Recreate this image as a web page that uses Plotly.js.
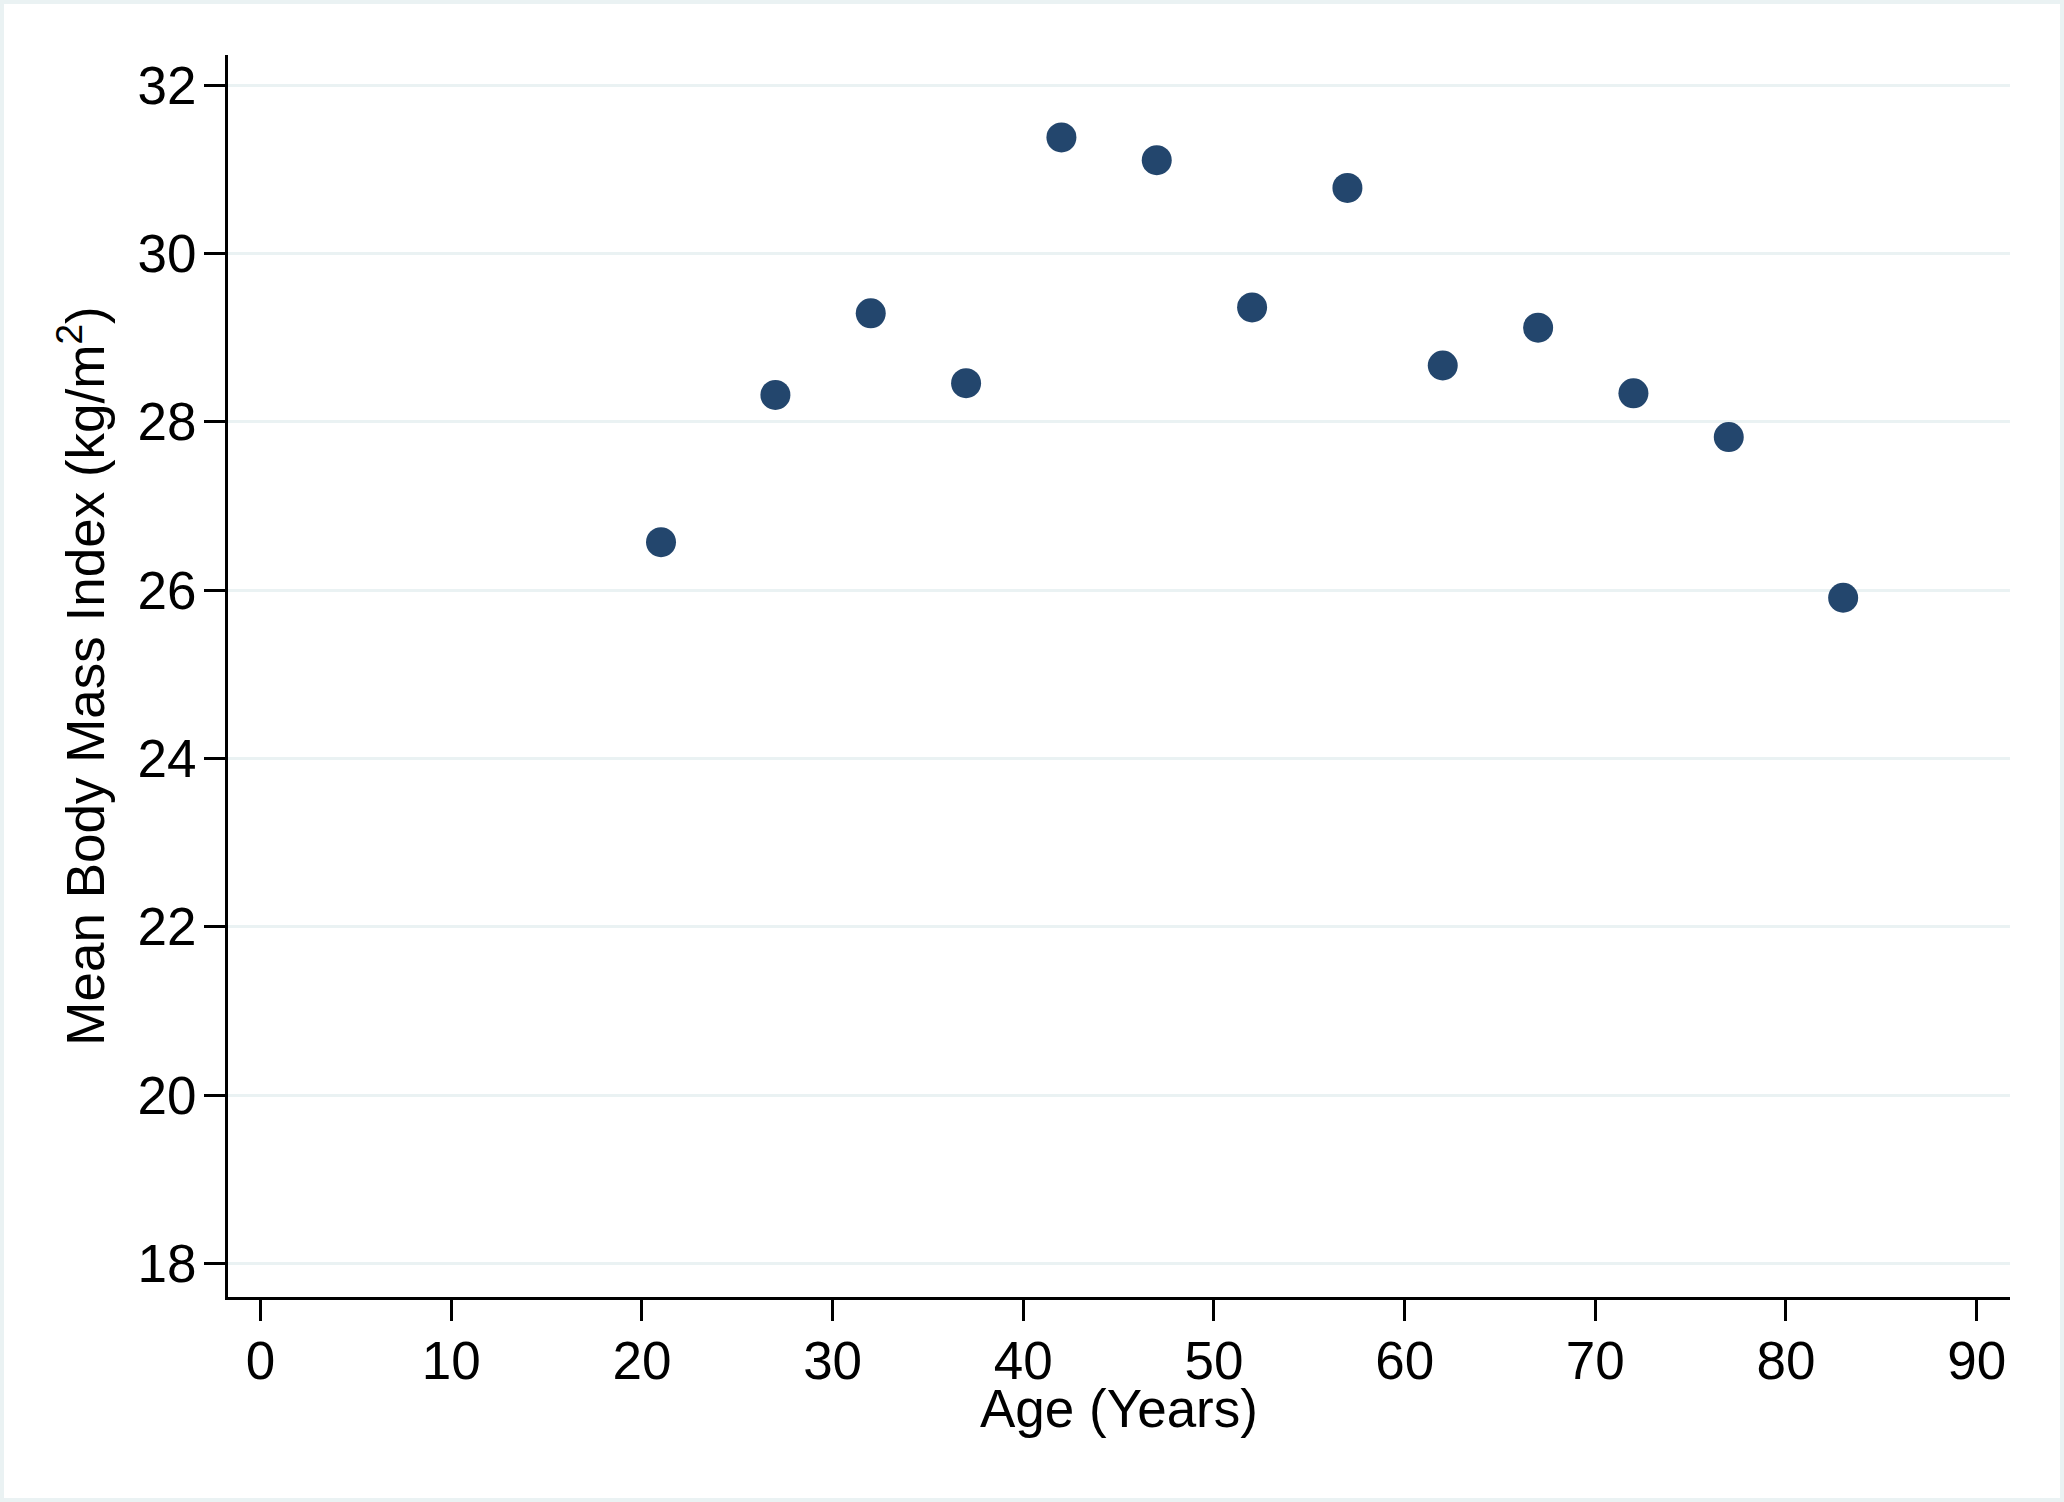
<!DOCTYPE html>
<html lang="en">
    <head>
        <meta charset="UTF-8" />
        <script src="https://cdn.plot.ly/plotly-3.0.1.min.js"></script>
        <title>Mean BMI by Age</title>
        <style>
            body {
                margin: 0;
                background: #ffffff;
            }
            #frame {
                width: 2064px;
                height: 1502px;
                box-sizing: border-box;
                border: 4px solid #eaf2f3;
            }
        </style>
    </head>
    <body>
        <div id="frame"><div id="graph"></div></div>
    </body>
    <script>
        // Age group midpoints and mean BMI
        const ages = [21, 27, 32, 37, 42, 47, 52, 57, 62, 67, 72, 77, 83];
        const meanBmi = [26.57, 28.32, 29.29, 28.46, 31.38, 31.11, 29.36, 30.78, 28.67, 29.12, 28.34, 27.82, 25.91];

        const xTicks = [0, 10, 20, 30, 40, 50, 60, 70, 80, 90];
        const yTicks = [18, 20, 22, 24, 26, 28, 30, 32];

        const font = { family: "Liberation Sans, Arial, sans-serif", size: 53, color: "#000000" };

        const data = [
            {
                x: ages,
                y: meanBmi,
                mode: "markers",
                type: "scatter",
                marker: { color: "#23466d", size: 30 },
            },
        ];

        const layout = {
            width: 2056,
            height: 1494,
            margin: { l: 224, r: 50, t: 51, b: 201 },
            paper_bgcolor: "#ffffff",
            plot_bgcolor: "#ffffff",
            font: font,
            showlegend: false,
            xaxis: {
                range: [-1.71, 91.75],
                tickvals: xTicks,
                ticks: "outside",
                ticklen: 21,
                tickwidth: 3,
                tickcolor: "#000000",
                ticklabelstandoff: -6,
                showline: true,
                linecolor: "#000000",
                linewidth: 3,
                showgrid: false,
                zeroline: false,
                tickfont: font,
            },
            yaxis: {
                range: [17.6, 32.36],
                tickvals: yTicks,
                ticks: "outside",
                ticklen: 21,
                tickwidth: 3,
                tickcolor: "#000000",
                ticklabelstandoff: -3,
                showline: true,
                linecolor: "#000000",
                linewidth: 3,
                showgrid: true,
                gridcolor: "#eaf2f3",
                gridwidth: 3,
                zeroline: false,
                tickfont: font,
                title: { text: "Mean Body Mass Index (kg/m<sup>2</sup>)", font: font, standoff: 16 },
            },
            // x title sits tight under the tick labels, so place it by hand
            annotations: [
                {
                    text: "Age (Years)",
                    xref: "paper",
                    yref: "paper",
                    x: 0.5,
                    y: 0,
                    xanchor: "center",
                    yanchor: "middle",
                    yshift: -111,
                    showarrow: false,
                    font: font,
                },
            ],
        };

        Plotly.newPlot("graph", data, layout, { staticPlot: true });
    </script>
</html>
